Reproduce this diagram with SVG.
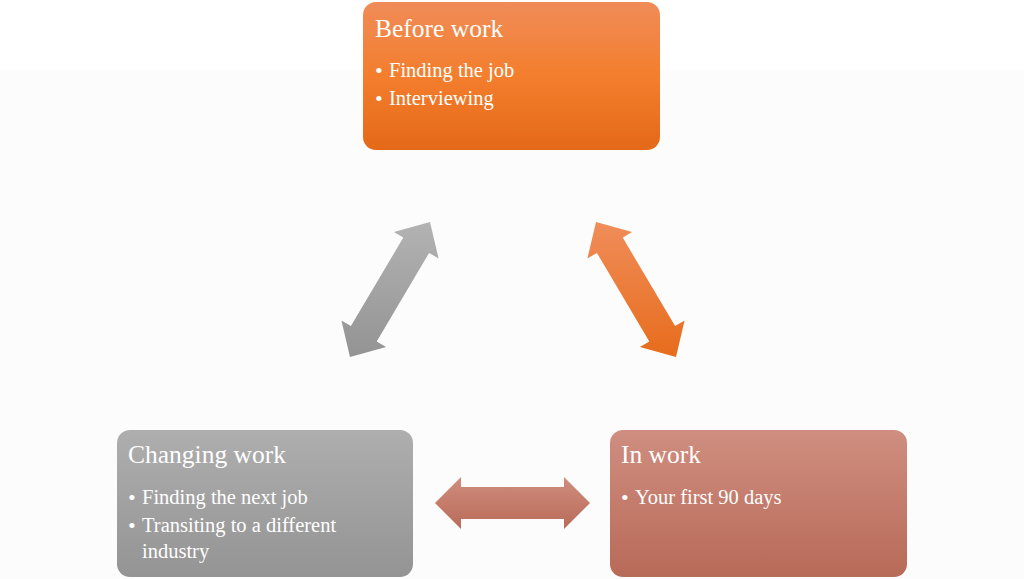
<svg xmlns="http://www.w3.org/2000/svg" width="1024" height="579" viewBox="0 0 1024 579">
  <defs>
    <linearGradient id="gOrange" x1="0" y1="0" x2="0" y2="1">
      <stop offset="0" stop-color="#f08c58"/>
      <stop offset="0.5" stop-color="#f37e2d"/>
      <stop offset="1" stop-color="#e46919"/>
    </linearGradient>
    <linearGradient id="gGray" x1="0" y1="0" x2="0" y2="1">
      <stop offset="0" stop-color="#aeaeae"/>
      <stop offset="1" stop-color="#949494"/>
    </linearGradient>
    <linearGradient id="gRed" x1="0" y1="0" x2="0" y2="1">
      <stop offset="0" stop-color="#cf8e80"/>
      <stop offset="1" stop-color="#b86a58"/>
    </linearGradient>
    <linearGradient id="aGray" x1="0" y1="0" x2="0" y2="1">
      <stop offset="0" stop-color="#b3b3b3"/>
      <stop offset="1" stop-color="#939393"/>
    </linearGradient>
    <linearGradient id="aOrange" x1="0" y1="0" x2="0" y2="1">
      <stop offset="0" stop-color="#f08d5a"/>
      <stop offset="1" stop-color="#e76c1c"/>
    </linearGradient>
    <linearGradient id="aRed" x1="0" y1="0" x2="0" y2="1">
      <stop offset="0" stop-color="#d08d7d"/>
      <stop offset="1" stop-color="#b96b59"/>
    </linearGradient>
  </defs>
  <style>
    .title { font-family: "Liberation Serif", "DejaVu Serif", serif; font-size: 25.5px; fill: #ffffff; }
    .item { font-family: "Liberation Serif", "DejaVu Serif", serif; font-size: 20.5px; fill: #ffffff; }
    .dot { font-size: 22px; }
  </style>
  <rect x="0" y="0" width="1024" height="579" fill="#ffffff"/>
  <rect x="0" y="70" width="1024" height="509" fill="#fcfcfc"/>

  <g id="connectors">
    <path id="arrow-before-changing" fill="url(#aGray)" d="M430,222 L438.6,258.5 L429.1,252.9 L376.7,341.4 L386.1,347 L350,357 L341.4,320.5 L350.9,326.1 L403.3,237.6 L393.9,232 Z"/>
    <path id="arrow-before-in" fill="url(#aOrange)" d="M596,222 L587.4,258.5 L596.9,252.9 L649.3,341.4 L639.9,347 L676,357 L684.6,320.5 L675.1,326.1 L622.7,237.6 L632.1,232 Z"/>
    <path id="arrow-changing-in" fill="url(#aRed)" d="M435,503 L461,477 L461,487 L564,487 L564,477 L590,503 L564,529 L564,519 L461,519 L461,529 Z"/>
  </g>

  <g id="node-before">
    <rect x="363" y="2" width="297" height="148" rx="13" fill="url(#gOrange)"/>
    <text class="title" x="375" y="37">Before work</text>
    <text class="item" y="77"><tspan class="dot" x="375" dy="1">•</tspan><tspan x="389" dy="-1">Finding the job</tspan></text>
    <text class="item" y="105"><tspan class="dot" x="375" dy="1">•</tspan><tspan x="389" dy="-1">Interviewing</tspan></text>
  </g>

  <g id="node-changing">
    <rect x="117" y="430" width="296" height="147" rx="13" fill="url(#gGray)"/>
    <text class="title" x="128" y="463">Changing work</text>
    <text class="item" y="504"><tspan class="dot" x="128" dy="1">•</tspan><tspan x="142" dy="-1">Finding the next job</tspan></text>
    <text class="item" y="532"><tspan class="dot" x="128" dy="1">•</tspan><tspan x="142" dy="-1">Transiting to a different</tspan></text>
    <text class="item" x="142" y="558">industry</text>
  </g>

  <g id="node-in">
    <rect x="610" y="430" width="297" height="147" rx="13" fill="url(#gRed)"/>
    <text class="title" x="621" y="463">In work</text>
    <text class="item" y="504"><tspan class="dot" x="621" dy="1">•</tspan><tspan x="635" dy="-1">Your first 90 days</tspan></text>
  </g>
</svg>
